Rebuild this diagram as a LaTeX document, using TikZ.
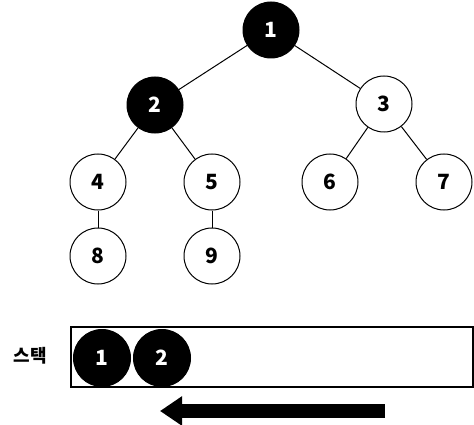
\documentclass[tikz,border=0pt]{standalone}
\usepackage{fontspec}
\setmainfont{Noto Sans CJK KR}
\usetikzlibrary{arrows.meta}

\begin{document}
\begin{tikzpicture}[x=1pt, y=-1pt,
  every node/.style={font=\fontsize{21}{21}\selectfont\bfseries},
  vtx/.style={circle,draw=black,line width=1pt,fill=white,minimum size=56pt,inner sep=0pt},
  seen/.style={vtx,fill=black,text=white},
  edge/.style={line width=1pt},
  push/.style={-{Triangle[length=22pt,width=28pt]},line width=14pt}]
\useasboundingbox (0,0) rectangle (474,425);

% tree
\node[seen] (n1) at (271,30)  {1};
\node[seen] (n2) at (155,105) {2};
\node[vtx]  (n3) at (384,104) {3};
\node[vtx]  (n4) at (98,182)  {4};
\node[vtx]  (n5) at (212,182) {5};
\node[vtx]  (n6) at (330,182) {6};
\node[vtx]  (n7) at (444,182) {7};
\node[vtx]  (n8) at (98,256)  {8};
\node[vtx]  (n9) at (212,256) {9};

\foreach \a/\b in {n1/n2,n1/n3,n2/n4,n2/n5,n3/n6,n3/n7,n4/n8,n5/n9}
  \draw[edge] (\a) -- (\b);

% stack
\node[font=\fontsize{18}{18}\selectfont\bfseries] (lbl) at (30,356) {스택};
\node[draw,line width=1.6pt,minimum width=402pt,minimum height=60pt,inner sep=0pt] (stk) at (272,357) {};
\node[seen,minimum size=57pt] (s1) at (102,358) {1};
\node[seen,minimum size=57pt] (s2) at (162,358) {2};

\coordinate (tail) at (385,411);
\coordinate (head) at (160,411);
\draw[push] (tail) -- (head);
\end{tikzpicture}
\end{document}
